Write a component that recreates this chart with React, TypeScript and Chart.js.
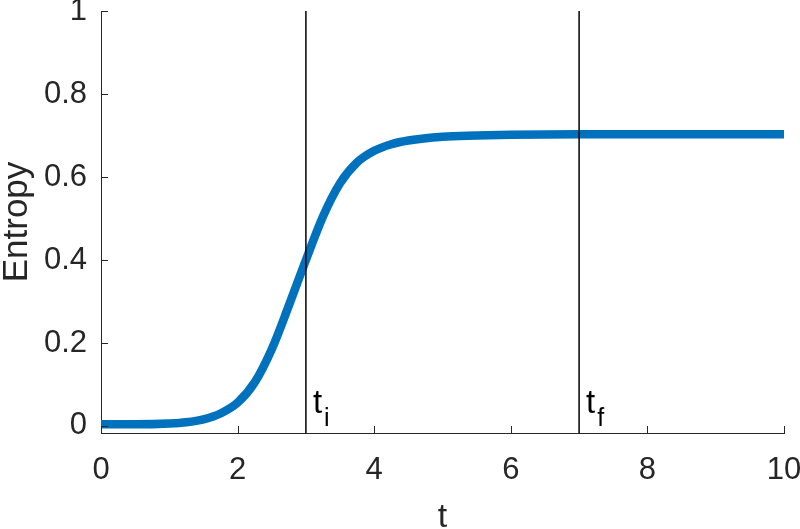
import React, { useEffect, useRef } from "react";
import { Chart, registerables } from "chart.js";

Chart.register(...registerables);

// ---- data ----
const tValues = [0, 0.5, 1, 1.25, 1.5, 1.75, 2, 2.25, 2.5, 2.75, 3, 3.25, 3.5, 3.75, 4, 4.25, 4.5, 5, 5.5, 6, 7, 8, 9, 10];
const entropyValues = [0.004, 0.004, 0.006, 0.009, 0.016, 0.03, 0.056, 0.105, 0.185, 0.29, 0.4, 0.505, 0.585, 0.635, 0.663, 0.679, 0.688, 0.697, 0.7, 0.702, 0.703, 0.703, 0.703, 0.703];
const xTicks = [0, 2, 4, 6, 8, 10];
const yTicks = [0, 0.2, 0.4, 0.6, 0.8, 1];
const xRange = [0, 10];
const yRange = [-0.017, 1];
const markerTimes = [3, 7];
const markerMain = ["t", "t"];
const markerSubs = ["i", "f"];
const xTitle = "t";
const yTitle = "Entropy";

const FONT = "'Liberation Sans', Arial, Helvetica, sans-serif";
const INK = "#262626";

const inwardTicks = {
  id: "inwardTicks",
  afterDatasetsDraw(chart: any) {
    const { ctx, chartArea, scales } = chart;
    const xs = scales.x;
    const ys = scales.y;
    ctx.save();
    ctx.strokeStyle = INK;
    ctx.lineWidth = 1;
    const len = 7;
    xTicks.forEach((v) => {
      const px = Math.round(xs.getPixelForValue(v)) + 0.5;
      ctx.beginPath();
      ctx.moveTo(px, chartArea.bottom);
      ctx.lineTo(px, chartArea.bottom - len);
      ctx.stroke();
    });
    yTicks.forEach((v) => {
      const py = Math.round(ys.getPixelForValue(v)) + 0.5;
      ctx.beginPath();
      ctx.moveTo(chartArea.left, py);
      ctx.lineTo(chartArea.left + len, py);
      ctx.stroke();
    });
    // marker labels
    ctx.fillStyle = "#000000";
    ctx.textAlign = "left";
    ctx.textBaseline = "alphabetic";
    markerTimes.forEach((t, i) => {
      const px = xs.getPixelForValue(t);
      const base = chartArea.bottom - 20;
      ctx.font = `33px ${FONT}`;
      ctx.fillText(markerMain[i], px + 7, base);
      const w = ctx.measureText(markerMain[i]).width;
      ctx.font = `25px ${FONT}`;
      ctx.fillText(markerSubs[i], px + 7 + w + 2, base + 13);
    });
    ctx.restore();
  },
};

export default function App() {
  const ref = useRef<HTMLCanvasElement | null>(null);
  useEffect(() => {
    document.body.style.margin = "0";
    const canvas = ref.current;
    if (!canvas) return;
    const curve = tValues.map((t, i) => ({ x: t, y: entropyValues[i] }));
    const markerSets = markerTimes.map((t) => ({
      data: [
        { x: t, y: yRange[0] },
        { x: t, y: yRange[1] },
      ],
      borderColor: "#000000",
      borderWidth: 1.5,
      pointRadius: 0,
      fill: false,
    }));
    const chart = new Chart(canvas, {
      type: "line",
      data: {
        datasets: [
          ...markerSets,
          {
            data: curve,
            borderColor: "#0072BD",
            borderWidth: 8.5,
            pointRadius: 0,
            cubicInterpolationMode: "monotone",
            fill: false,
          },
        ] as any,
      },
      options: {
        animation: false,
        responsive: false,
        maintainAspectRatio: false,
        layout: { padding: { left: 0, right: 16, top: 11, bottom: 0 } },
        plugins: { legend: { display: false }, tooltip: { enabled: false } },
        scales: {
          x: {
            type: "linear",
            min: xRange[0],
            max: xRange[1],
            afterBuildTicks: (s: any) => {
              s.ticks = xTicks.map((v) => ({ value: v }));
            },
            afterFit: (s: any) => {
              s.height = 96;
              s.paddingLeft = 0;
              s.paddingRight = 0;
            },
            grid: { display: false, drawTicks: false },
            border: { display: true, color: INK, width: 1 },
            ticks: {
              color: INK,
              font: { family: FONT, size: 31 },
              padding: 19,
              maxRotation: 0,
              callback: (v: any) => String(v),
            },
            title: {
              display: true,
              text: xTitle,
              color: INK,
              font: { family: FONT, size: 34 },
              padding: { top: 0, bottom: -9 },
            },
          },
          y: {
            type: "linear",
            min: yRange[0],
            max: yRange[1],
            afterBuildTicks: (s: any) => {
              s.ticks = yTicks.map((v) => ({ value: v }));
            },
            afterFit: (s: any) => {
              s.width = 101;
              s.paddingTop = 0;
              s.paddingBottom = 0;
            },
            grid: { display: false, drawTicks: false },
            border: { display: true, color: INK, width: 1 },
            ticks: {
              color: INK,
              font: { family: FONT, size: 31 },
              padding: 14,
              callback: (v: any) => String(v),
            },
            title: {
              display: true,
              text: yTitle,
              color: INK,
              font: { family: FONT, size: 35 },
              padding: { top: -4, bottom: 0 },
            },
          },
        },
      },
      plugins: [inwardTicks],
    });
    return () => chart.destroy();
  }, []);
  return (
    <div style={{ width: 800, height: 529 }}>
      <canvas ref={ref} width={800} height={529} style={{ display: "block" }} />
    </div>
  );
}
